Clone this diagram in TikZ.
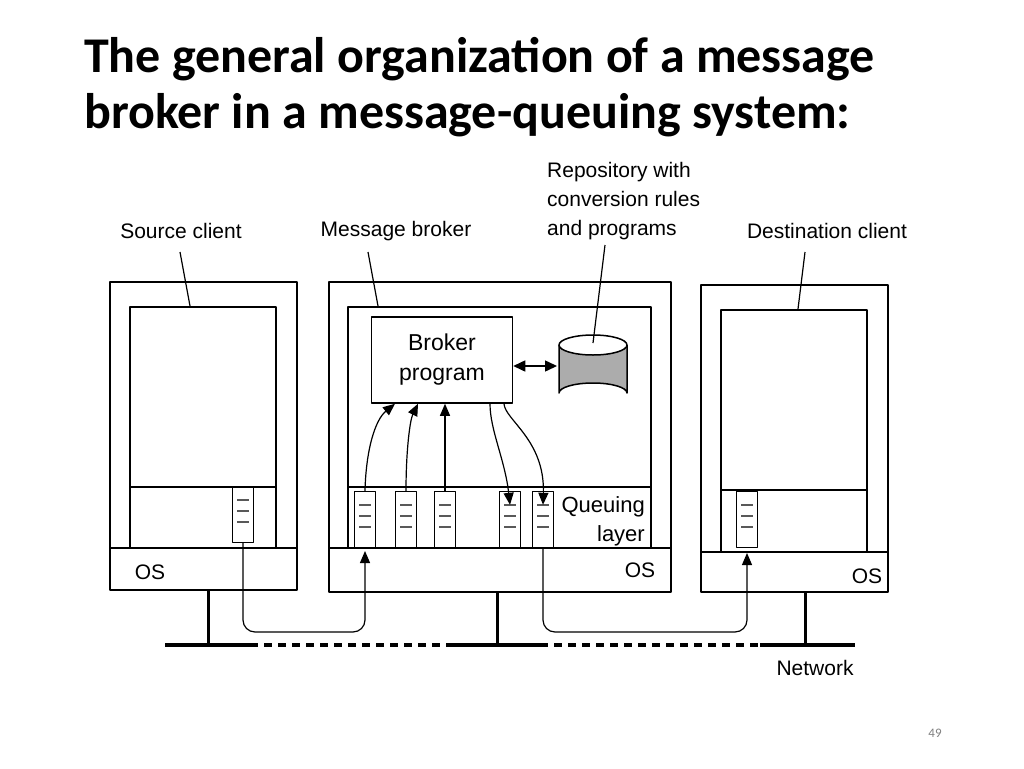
\documentclass[tikz,border=0pt]{standalone}
\usepackage{fontspec}
\setmainfont{Liberation Sans}
\newfontfamily\titlefont{Carlito}
\usetikzlibrary{arrows.meta}
\tikzset{
  box/.style={draw, line width=2.5, inner sep=0pt},
  thin/.style={draw, line width=1.2},
  lbl/.style={font=\fontsize{21}{29}\selectfont, inner sep=0pt},
  queue/.style={draw, line width=1.2, minimum width=21, minimum height=56, inner sep=0pt},
  flow/.style={line width=1.2, -{Triangle[length=12, width=10]}},
  net/.style={line width=3.5}
}
\newcommand{\qdashes}[1]{%
  \foreach \k in {0,1,2}
    \draw[line width=2, gray!70!black] ([xshift=-6, yshift=-14-11*\k]#1.north) -- ([xshift=6, yshift=-14-11*\k]#1.north);}
\begin{document}
\begin{tikzpicture}[x=1pt, y=-1pt, line cap=butt, line join=round]
        \useasboundingbox[fill=white] (0,0) rectangle (1024,768);
        % title
        \node[anchor=base west, inner sep=0pt, font=\titlefont\bfseries\fontsize{50}{54}\selectfont] (t1) at (84,72) {The general organization of a message};
        \node[anchor=base west, inner sep=0pt, font=\titlefont\bfseries\fontsize{50}{54}\selectfont] (t2) at (84,128) {broker in a message-queuing system:};
        % machines
        \draw[box] (110,282) rectangle (297,590);
        \draw[thin] (130,548) -- (130,307) -- (276,307) -- (276,548);
        \draw[thin] (130,487) -- (276,487);
        \draw[thin] (110,548) -- (297,548);
        \draw[box] (329,282) rectangle (671,592);
        \draw[thin] (348,548) -- (348,307) -- (651,307) -- (651,548);
        \draw[thin] (348,487) -- (651,487);
        \draw[thin] (329,548) -- (671,548);
        \draw[box] (701,285) rectangle (888,592);
        \draw[thin] (721,552) -- (721,310) -- (867,310) -- (867,552);
        \draw[thin] (721,490) -- (867,490);
        \draw[thin] (701,552) -- (888,552);
        \node[lbl] (os1) at (150,572) {OS};
        \node[lbl] (os2) at (640,570) {OS};
        \node[lbl] (os3) at (867,576) {OS};
        % broker and repository
        \node[draw, line width=1.5, minimum width=141, minimum height=86, lbl, font=\fontsize{23}{30}\selectfont, align=center] (broker) at (442,360) {Broker\\program};
        \coordinate (repo) at (593,345);
        \draw[line width=1.5, fill=gray!65] (559,345) -- (559,393) arc[start angle=180, end angle=360, x radius=34, y radius=10] -- (627,345);
        \draw[line width=1.5, fill=white] (repo) ellipse[x radius=34, y radius=10];
        \coordinate (repo w) at (557,366);
        \draw[line width=1.5, {Triangle[length=12,width=11]}-{Triangle[length=12,width=11]}] (broker.east |- repo w) -- (repo w);
        % queues
        \node[queue, anchor=south] (qs) at (243,543) {};
        \node[queue, anchor=south] (qa) at (365,548) {};
        \node[queue, anchor=south] (qb) at (406,548) {};
        \node[queue, anchor=south] (qc) at (445,548) {};
        \node[queue, anchor=south] (qd) at (510,548) {};
        \node[queue, anchor=south] (qe) at (543,548) {};
        \node[queue, anchor=south] (qr) at (747,548) {};
        \foreach \q in {qs,qa,qb,qc,qd,qe,qr} {\qdashes{\q}}
        \node[lbl, font=\fontsize{22}{29}\selectfont, align=right, anchor=east] (ql) at (645,521) {Queuing\\layer};
        % flows in the broker
        \draw[flow] (qa.north) .. controls (366,450) and (375,420) .. ([xshift=-47]broker.south);
        \draw[flow] (qb.north) .. controls (406,450) and (410,420) .. ([xshift=-24]broker.south);
        \draw[flow] (qc.north) -- ([xshift=3]broker.south);
        \draw[flow] ([xshift=48]broker.south) .. controls (490,430) and (505,460) .. ([yshift=-14]qd.north);
        \draw[flow] ([xshift=62]broker.south) .. controls (505,420) and (545,440) .. ([yshift=-14]qe.north);
        % network
        \coordinate (n0) at (165,645);
        \coordinate (n1) at (250,645);
        \coordinate (n2) at (450,645);
        \coordinate (n3) at (540,645);
        \coordinate (n4) at (760,645);
        \coordinate (n5) at (855,645);
        \draw[net] (n0) -- (n1);
        \draw[net, dash pattern=on 8 off 6] (n1) -- (n2);
        \draw[net] (n2) -- (n3);
        \draw[net, dash pattern=on 8 off 6] (n3) -- (n4);
        \draw[net] (n4) -- (n5);
        \draw[line width=3] (208,590) -- (208,645);
        \draw[line width=3] (497,592) -- (497,645);
        \draw[line width=3] (805,592) -- (805,645);
        \node[lbl] (netl) at (815,668) {Network};
        % messages over the network
        \draw[flow, rounded corners=12] (qs.south) -- (243,632) -- (365,632) -- (365,551);
        \draw[flow, rounded corners=12] (qe.south) -- (543,632) -- (747,632) -- (747,553);
        % labels
        \node[lbl] (src) at (181,231) {Source client};
        \node[lbl] (mb) at (396,231) {Message broker};
        \node[lbl, align=left, anchor=west] (rep) at (547,201) {Repository with\\conversion rules\\and programs};
        \node[lbl] (dst) at (827,231) {Destination client};
        \draw[thin] (180,252) -- (190,306);
        \draw[thin] (368,252) -- (378,306);
        \draw[thin] (605,245) -- (593,343);
        \draw[thin] (805,252) -- (798,309);
        \node[font=\titlefont\fontsize{13}{15}\selectfont, text=gray] (pg) at (935,733) {49};
\end{tikzpicture}
\end{document}
